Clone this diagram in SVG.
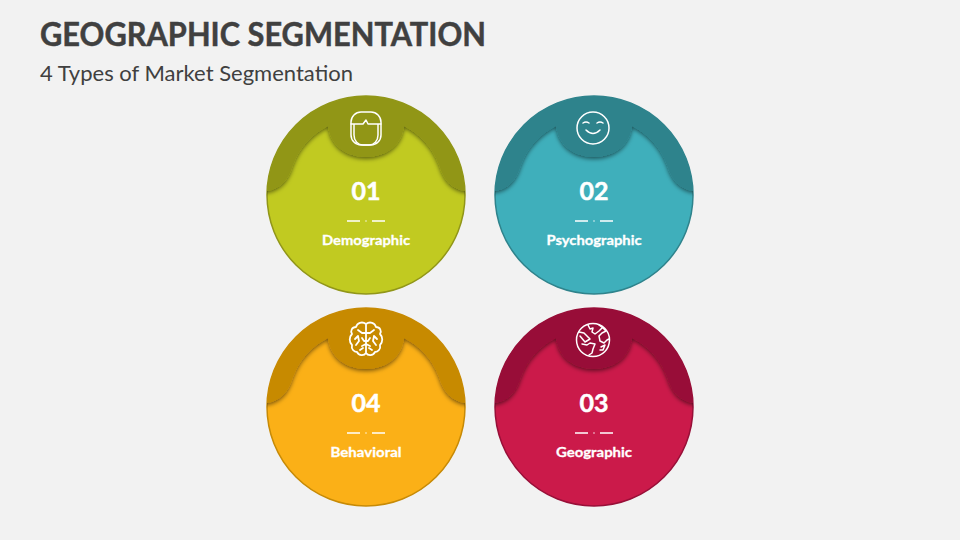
<svg xmlns="http://www.w3.org/2000/svg" width="960" height="540" viewBox="0 0 960 540">
<style>
text{font-variant-ligatures:none}
.title{font:700 33px Lato,"Open Sans",sans-serif;fill:#404040;stroke:#404040;stroke-width:.5}
.sub{font:400 21px Lato,"Open Sans",sans-serif;fill:#404040}
.num{font:700 25px Lato,"Open Sans",sans-serif;fill:#fff;text-anchor:middle;stroke:#fff;stroke-width:.5}
.lab{font:700 14px Lato,"Open Sans",sans-serif;fill:#fff;text-anchor:middle;stroke:#fff;stroke-width:.3}
.ic{fill:none;stroke:#fff;stroke-width:1.5;stroke-linecap:round;stroke-linejoin:round}
.div{stroke:#fff;stroke-width:1.5;fill:none}
</style>
<defs>
<clipPath id="cc"><circle r="99"/></clipPath>
<filter id="sh" x="-20%" y="-20%" width="140%" height="140%"><feDropShadow dx="0" dy="2" stdDeviation="2" flood-color="#000" flood-opacity=".5"/></filter>
<path id="cap" d="M-110-110H110V-4H99C86-6 78-14 73-30C66-48 55-60 38-69C36-50 20-38 0-38C-20-38-36-50-38-69C-55-60-66-48-73-30C-78-14-86-6-99-4H-110Z"/>
<g id="divider" class="div"><path d="M-19 26H-6M6 26H19M0 25.400V26.600"/></g>
</defs>
<rect width="960" height="540" fill="#f2f2f2"/>
<text class="title" x="40" y="46" textLength="446" lengthAdjust="spacingAndGlyphs">GEOGRAPHIC SEGMENTATION</text>
<text class="sub" x="40" y="81" textLength="313" lengthAdjust="spacingAndGlyphs">4 Types of Market Segmentation</text>

<g id="node-01" transform="translate(366 195)">
<circle r="99" fill="#c1ca21" stroke="#919619" stroke-width="1.5"/>
<g clip-path="url(#cc)"><use href="#cap" fill="#919619" filter="url(#sh)"/></g>
<g class="ic"><rect x="-15" y="-83" width="30" height="33" rx="10"/><path d="M-15-71H-3L0-75L2-71H15M-12-71V-60C-12-54-8-50-3-50H3C8-50 12-54 12-60V-71"/></g>
<text class="num" y="4.500">01</text><use href="#divider"/>
<text class="lab" y="49.500" textLength="88" lengthAdjust="spacingAndGlyphs">Demographic</text>
</g>

<g id="node-02" transform="translate(594 195)">
<circle r="99" fill="#3fafbb" stroke="#2f838c" stroke-width="1.5"/>
<g clip-path="url(#cc)"><use href="#cap" fill="#2f838c" filter="url(#sh)"/></g>
<g class="ic"><circle cx="-1" cy="-67" r="16"/><path d="M-11-72Q-8-74-5-72M3-72Q6-74 9-72M-8-65Q-1-58 6-65"/></g>
<text class="num" y="4.500">02</text><use href="#divider"/>
<text class="lab" y="49.500" textLength="95" lengthAdjust="spacingAndGlyphs">Psychographic</text>
</g>

<g id="node-03" transform="translate(594 407)">
<circle r="99" fill="#cb1a4a" stroke="#980f38" stroke-width="1.500"/>
<g clip-path="url(#cc)"><use href="#cap" fill="#980f38" filter="url(#sh)"/></g>
<g class="ic" stroke-width="1.700"><circle cx="-1" cy="-67" r="16.500"/><path d="M-15-75L-10-74L-7-71L-4-68L-9-65L-14-71M-12-63L-7-62L-4-64L1-63L-1-58L-2-54L-5-52M-6-82L-4-78L-1-79L-2-75L1-73L5-76L8-79M5-82L9-79L12-76L8-74L5-71L6-66L10-64L13-67L15-68M7-60L11-62L9-57L6-57"/></g>
<text class="num" y="4.500">03</text><use href="#divider"/>
<text class="lab" y="49.500" textLength="76" lengthAdjust="spacingAndGlyphs">Geographic</text>
</g>

<g id="node-04" transform="translate(366 407)">
<circle r="99" fill="#fbb017" stroke="#c78a06" stroke-width="1.500"/>
<g clip-path="url(#cc)"><use href="#cap" fill="#c78a06" filter="url(#sh)"/></g>
<g class="ic" style="stroke-width:1.800"><path d="M0-83C-4-86-9-84-10-80C-14-80-16-76-14-73C-17-70-17-65-14-62C-15-58-12-55-9-55C-7-51-2-51 0-54C2-51 7-51 9-55C12-55 15-58 14-62C17-65 17-70 14-73C16-76 14-80 10-80C9-84 4-86 0-83V-54M-8-77L-4-74H0M8-77L4-74H0M-11-68L-8-71L-7-66L-10-62M11-68L8-71L7-66L10-62M-4-69L-2-66H0M4-69L2-66H0M-4-61L0-63L4-61M-6-57L-3-59M6-57L3-59"/></g>
<text class="num" y="4.500">04</text><use href="#divider"/>
<text class="lab" y="49.500" textLength="71" lengthAdjust="spacingAndGlyphs">Behavioral</text>
</g>
</svg>
